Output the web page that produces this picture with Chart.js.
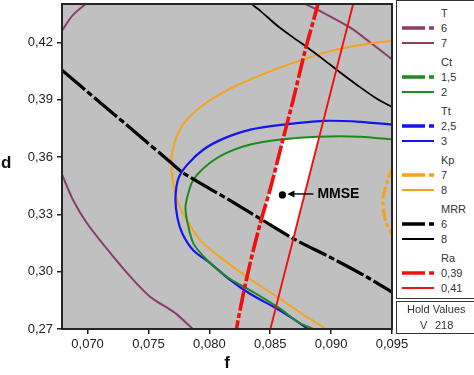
<!DOCTYPE html>
<html><head><meta charset="utf-8">
<script src="https://cdn.jsdelivr.net/npm/chart.js@4.4.1/dist/chart.umd.min.js"></script>
<style>
html,body{margin:0;padding:0;background:#fff;}
#wrap{position:relative;width:474px;height:375px;overflow:hidden;font-family:'Liberation Sans',Arial,sans-serif;}
canvas{position:absolute;left:0;top:0;}
#ytitle{position:absolute;left:1px;top:154px;font-weight:bold;font-size:17px;color:#111;line-height:18px;}
#legend{position:absolute;left:396px;top:0px;width:90px;height:299px;border:1.5px solid #333;box-sizing:border-box;background:#fff;}
#hold{position:absolute;left:396px;top:301px;width:90px;height:33px;border:1.5px solid #333;box-sizing:border-box;background:#fff;}
.lg{position:absolute;font-size:11px;color:#333;line-height:14px;white-space:pre;}
</style></head>
<body>
<div id="wrap">
<canvas id="c" width="474" height="375"></canvas>
<div id="ytitle">d</div>
<div id="legend"></div>
<div id="hold"></div>
</div>
<script>
// ---------- data ----------
const fTicks = [0.070, 0.075, 0.080, 0.085, 0.090, 0.095];
const dTicks = [0.27, 0.30, 0.33, 0.36, 0.39, 0.42];
const fMin = 0.0679, fMax = 0.095;
const dMin = 0.27, dMax = 0.4402;

// T = 7 (three branches)
const t7a = [[0.0679,0.4262],[0.06874,0.4340],[0.06998,0.4410],[0.0701,0.4420]];
const t7b = [[0.0679,0.3510],[0.06885,0.3370],[0.06998,0.3251],[0.07189,0.3096],[0.07377,0.2956],[0.07517,0.2867],[0.07681,0.2800],[0.07738,0.2774],[0.07862,0.2701],[0.0788,0.2690]];
const t7c = [[0.0876,0.4415],[0.08772,0.4407],[0.08936,0.4356],[0.09158,0.4278],[0.09322,0.4200],[0.0950,0.4112]];
// MRR
const mrr8 = [[0.0832,0.4415],[0.08337,0.4407],[0.08419,0.4366],[0.08559,0.4288],[0.0869,0.4226],[0.08805,0.4174],[0.08936,0.4112],[0.09051,0.4055],[0.09215,0.3977],[0.09379,0.3904],[0.0950,0.3863]];
const mrr6 = [[0.0679,0.4055],[0.07107,0.3884],[0.07435,0.3707],[0.07681,0.3573],[0.07788,0.3516],[0.08149,0.3381],[0.08419,0.3277],[0.0869,0.3173],[0.08994,0.3075],[0.09297,0.2971],[0.0950,0.2893]];
// Kp
const kp8 = [[0.0950,0.4210],[0.09265,0.4190],[0.09018,0.4159],[0.08748,0.4107],[0.08477,0.4044],[0.08198,0.3967],[0.07985,0.3889],[0.07821,0.3801],[0.07738,0.3718],[0.07697,0.3630],[0.07689,0.3578],[0.07697,0.3490],[0.07738,0.3370],[0.07804,0.3282],[0.07927,0.3163],[0.08091,0.3075],[0.08313,0.2971],[0.08559,0.2868],[0.08748,0.2785],[0.08953,0.2702],[0.0900,0.2680]];
const kp7 = [[0.0951,0.3552],[0.09462,0.3474],[0.09429,0.3396],[0.09429,0.3329],[0.09453,0.3256],[0.0951,0.3184]];
// Tt
const tt3 = [[0.0950,0.3770],[0.0924,0.3785],[0.08936,0.3790],[0.08608,0.3770],[0.08337,0.3744],[0.08116,0.3697],[0.07952,0.3640],[0.07821,0.3562],[0.07747,0.3490],[0.07722,0.3386],[0.07738,0.3282],[0.07779,0.3199],[0.0787,0.3111],[0.08009,0.3044],[0.08173,0.2956],[0.08337,0.2883],[0.08559,0.2805],[0.0869,0.2753],[0.08805,0.2702],[0.0885,0.2680]];
// Ct
const ct2 = [[0.0950,0.3692],[0.0924,0.3707],[0.08887,0.3707],[0.08584,0.3692],[0.08337,0.3666],[0.08116,0.3614],[0.07952,0.3542],[0.07862,0.3474],[0.07821,0.3396],[0.07804,0.3334],[0.07821,0.3256],[0.0787,0.3147],[0.07985,0.3059],[0.08149,0.2971],[0.08362,0.2893],[0.08584,0.2805],[0.08723,0.2738],[0.08846,0.2702],[0.0889,0.2680]];
// Ra
const ra39 = [[0.0890,0.4420],[0.08895,0.4407],[0.08789,0.4164],[0.0869,0.3904],[0.0860,0.3682],[0.08502,0.3438],[0.08419,0.3256],[0.08337,0.3049],[0.0828,0.2888],[0.08223,0.2702],[0.0822,0.2680]];
const ra41 = [[0.0919,0.4420],[0.09183,0.4407],[0.09044,0.4060],[0.08899,0.3697],[0.08783,0.3407],[0.0869,0.3173],[0.08603,0.2956],[0.08502,0.2702],[0.0849,0.2680]];
// feasible (white) region and optimum
const feasible = [[0.08602,0.3687],[0.08748,0.3700],[0.0890,0.3707],[0.08783,0.3407],[0.0869,0.3173],[0.08427,0.3274],[0.08502,0.3438]];
const mmse = [0.0860, 0.3402];

// legend content
const legendGroups = ['T','Ct','Tt','Kp','MRR','Ra'];
const legendLevels = [['6','7'],['1,5','2'],['2,5','3'],['7','8'],['6','8'],['0,39','0,41']];
const holdName = 'V', holdValue = '218';

// ---------- styles ----------
const FONT = "'Liberation Sans', Arial, sans-serif";
const groupColors = ['#8c3b6c','#1e8a1e','#1414f0','#f7a21b','#000000','#f01010'];
const xy = a => a.map(p => ({x: p[0], y: p[1]}));
function line(arr, color, w, dash, tension){
  return {data: xy(arr), borderColor: color, borderWidth: w, borderDash: dash || [],
    showLine: true, pointRadius: 0, fill: false, clip: 0, tension: tension === undefined ? 0.3 : tension,
    borderCapStyle: 'butt', borderJoinStyle: 'round'};
}
const DASH_R = [20,2.5,5,2.5], DASH_K = [30,3,6,3], DASH_O = [12,3,4,3];

const datasets = [
  {data: [{x: mmse[0], y: mmse[1]}], pointRadius: 3.6, pointBackgroundColor: '#000', pointBorderWidth: 0, showLine: false, clip: 0},
  line(ra39, groupColors[5], 3.6, DASH_R),
  line(ra41, groupColors[5], 1.9, null, 0.2),
  line(mrr6, groupColors[4], 3.2, DASH_K),
  line(mrr8, groupColors[4], 1.8),
  line(ct2, groupColors[1], 2.0),
  line(tt3, groupColors[2], 2.2),
  line(kp8, groupColors[3], 2.0),
  line(kp7, groupColors[3], 3.2, DASH_O),
  line(t7a, groupColors[0], 2.0),
  line(t7b, groupColors[0], 2.0),
  line(t7c, groupColors[0], 2.0),
  {data: xy(feasible), showLine: true, borderWidth: 0, borderColor: 'rgba(0,0,0,0)', backgroundColor: '#ffffff', fill: 'shape', pointRadius: 0, tension: 0, clip: 0}
];

const plotBg = {
  id: 'plotBg',
  beforeDraw(chart){
    const {ctx, chartArea: a} = chart;
    ctx.save(); ctx.fillStyle = '#c0c0c0'; ctx.fillRect(a.left, a.top, a.right - a.left, a.bottom - a.top); ctx.restore();
  },
  afterDraw(chart){
    const {ctx, chartArea: a, scales: {x, y}} = chart;
    ctx.save();
    // MMSE annotation
    const px = x.getPixelForValue(mmse[0]), py = y.getPixelForValue(mmse[1]);
    ctx.strokeStyle = '#000'; ctx.fillStyle = '#000'; ctx.lineWidth = 1.4;
    ctx.beginPath(); ctx.moveTo(px + 31, py - 1); ctx.lineTo(px + 9, py - 1); ctx.stroke();
    ctx.beginPath(); ctx.moveTo(px + 5, py - 1); ctx.lineTo(px + 12, py - 4.5); ctx.lineTo(px + 12, py + 2.5); ctx.closePath(); ctx.fill();
    ctx.font = 'bold 14px ' + FONT; ctx.textBaseline = 'middle'; ctx.textAlign = 'left';
    ctx.fillText('MMSE', px + 35, py - 0.5);
    // frame
    ctx.strokeStyle = '#262626'; ctx.lineWidth = 2;
    ctx.strokeRect(a.left, a.top, a.right - a.left, a.bottom - a.top);
    ctx.restore();
  }
};

new Chart(document.getElementById('c'), {
  type: 'scatter',
  data: {datasets},
  options: {
    responsive: false, animation: false, events: [],
    layout: {padding: {left: 0, right: 82, top: 1, bottom: 0}},
    plugins: {legend: {display: false}, tooltip: {enabled: false}},
    scales: {
      x: {
        type: 'linear', min: fMin, max: fMax,
        afterBuildTicks: s => { s.ticks = fTicks.map(v => ({value: v})); },
        afterFit: s => { s.height = 46; s.paddingLeft = 0; s.paddingRight = 0; },
        ticks: {callback: v => Number(v).toFixed(3).replace('.', ','), font: {size: 13, family: FONT}, color: '#222', padding: 3, maxRotation: 0, autoSkip: false},
        grid: {drawOnChartArea: false, tickLength: 5, color: '#222', lineWidth: 1.5},
        border: {display: false},
        title: {display: true, text: 'f', font: {size: 17, weight: 'bold', family: FONT}, color: '#111', padding: {top: 0, bottom: 1}}
      },
      y: {
        type: 'linear', min: dMin, max: dMax,
        afterBuildTicks: s => { s.ticks = dTicks.map(v => ({value: v})); },
        afterFit: s => { s.width = 62; s.paddingTop = 0; s.paddingBottom = 0; },
        ticks: {callback: v => Number(v).toFixed(2).replace('.', ','), font: {size: 13, family: FONT}, color: '#222', padding: 4, autoSkip: false},
        grid: {drawOnChartArea: false, tickLength: 5, color: '#222', lineWidth: 1.5},
        border: {display: false}
      }
    }
  },
  plugins: [plotBg]
});

// ---------- HTML legend ----------
const lg = document.getElementById('legend');
const L0 = 397; // legend box left in page coords
function addText(parent, txt, x, yc){
  const d = document.createElement('div'); d.className = 'lg'; d.textContent = txt;
  d.style.left = (x - L0) + 'px'; d.style.top = (yc - 7 - 1) + 'px';
  parent.appendChild(d);
}
legendGroups.forEach((g, gi) => {
  const yh = 13 + gi * 49;
  addText(lg, g, 441, yh);
  legendLevels[gi].forEach((lv, li) => {
    const yc = yh + 14.5 + li * 15;
    const svg = document.createElementNS('http://www.w3.org/2000/svg', 'svg');
    svg.setAttribute('width', '34'); svg.setAttribute('height', '8');
    svg.style.position = 'absolute'; svg.style.left = (401 - L0) + 'px'; svg.style.top = (yc - 4 - 1) + 'px';
    const ln = document.createElementNS('http://www.w3.org/2000/svg', 'line');
    ln.setAttribute('x1', '1'); ln.setAttribute('x2', '33'); ln.setAttribute('y1', '4'); ln.setAttribute('y2', '4');
    ln.setAttribute('stroke', groupColors[gi]);
    ln.setAttribute('stroke-width', li === 0 ? '3.4' : '2');
    if (li === 0) ln.setAttribute('stroke-dasharray', '23 4 5 10');
    svg.appendChild(ln); lg.appendChild(svg);
    addText(lg, lv, 441, yc);
  });
});
const hold = document.getElementById('hold');
addText(hold, 'Hold Values', 407, 309 - 301);
addText(hold, holdName, 420, 325 - 301);
addText(hold, holdValue, 435, 325 - 301);
</script>
</body></html>
